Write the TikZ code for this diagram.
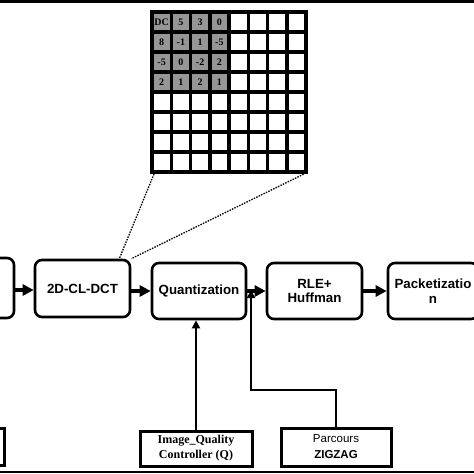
\documentclass[tikz,border=0pt]{standalone}
\usepackage{fontspec}
\setmainfont{Liberation Serif}
\setsansfont{Liberation Sans}
\usetikzlibrary{arrows.meta,calc}
\tikzset{
  blk/.style={draw, line width=2.6pt, rounded corners=7pt, align=center, inner sep=0pt,
    font=\sffamily\bfseries\fontsize{13.3}{14.5}\selectfont},
  sqbox/.style={draw, line width=3pt, inner sep=0pt, align=center},
  flow/.style={line width=4.5pt, -{Triangle[length=11pt,width=11pt]}},
  ctrl/.style={line width=2.4pt, -{Triangle[length=8pt,width=8pt]}},
  zoomline/.style={line width=1.3pt, dash pattern=on 1.5pt off 1.2pt},
  gridline/.style={line width=3.5pt, line cap=rect},
  num/.style={font=\rmfamily\bfseries\fontsize{10}{10}\selectfont, inner sep=0pt},
  frameline/.style={line width=2.6pt}
}
\definecolor{cellgray}{RGB}{150,150,150}
\begin{document}
\begin{tikzpicture}[x=1pt,y=-1pt]
\useasboundingbox (0,0) rectangle (474,474);
\clip (0,0) rectangle (474,474);
% frame lines top and bottom
\draw[frameline] (0,1.3) -- (474,1.3);
\draw[frameline] (0,472) -- (474,472);
% zoomed DCT block grid
\fill[cellgray] (152,12) rectangle (229,92);
\foreach \i in {0,...,8}{
  \pgfmathsetmacro{\gx}{152+19.25*\i}
  \pgfmathsetmacro{\gy}{12+20*\i}
  \draw[gridline] (\gx,12) -- (\gx,172);
  \draw[gridline] (152,\gy) -- (306,\gy);
}
\foreach \v [count=\k from 0] in {DC,5,3,0,8,-1,1,-5,-5,0,-2,2,2,1,2,1}{
  \pgfmathtruncatemacro{\col}{mod(\k,4)}
  \pgfmathtruncatemacro{\row}{int(\k/4)}
  \node[num] (c\k) at ({152+19.25*(\col+0.5)},{12+20*(\row+0.5)}) {\v};
}
\coordinate (gbl) at (154,174);
\coordinate (gbr) at (306,173);
% blocks
\node[blk, minimum width=100pt, minimum height=60pt] (src) at (-36,288) {};
\node[blk, minimum width=95pt, minimum height=57pt] (dct) at (82.5,288.5) {2D-CL-DCT};
\node[blk, minimum width=94pt, minimum height=56pt] (quant) at (199,291) {Quantization};
\node[blk, minimum width=95pt, minimum height=56pt] (rle) at (314.5,291) {RLE+\\Huffman};
\node[blk, minimum width=90pt, minimum height=56pt] (pack) at (433,291) {Packetizatio\\n};
\node[sqbox, minimum width=112pt, minimum height=35pt, font=\rmfamily\bfseries\fontsize{12}{15}\selectfont] (iq) at (196,448.5) {Image\_Quality\\Controller (Q)};
\node[sqbox, minimum width=110pt, minimum height=38pt, font=\sffamily\fontsize{11.5}{16}\selectfont] (zz) at (336,447) {Parcours\\\textbf{ZIGZAG}};
\node[sqbox, minimum width=100pt, minimum height=37pt] (lb) at (-46,446.5) {};
% zoom lines
\draw[zoomline] (gbl) -- ($(dct.north east)+(-12,0)$);
\draw[zoomline] (gbr) -- (dct.north east);
% flow arrows
\draw[flow] (src.east |- 0,290) -- (dct.west |- 0,290);
\draw[flow] (dct.east |- quant.west) -- (quant.west);
\draw[flow] (quant.east) -- (rle.west);
\draw[flow] (rle.east) -- (pack.west);
% control connectors
\draw[ctrl] (iq.north) -- (iq.north |- quant.south);
\coordinate (bend) at (251,390);
\draw[ctrl] (zz.north) |- (bend) -- ($(bend |- quant.east)+(0,-1)$);
\end{tikzpicture}
\end{document}
